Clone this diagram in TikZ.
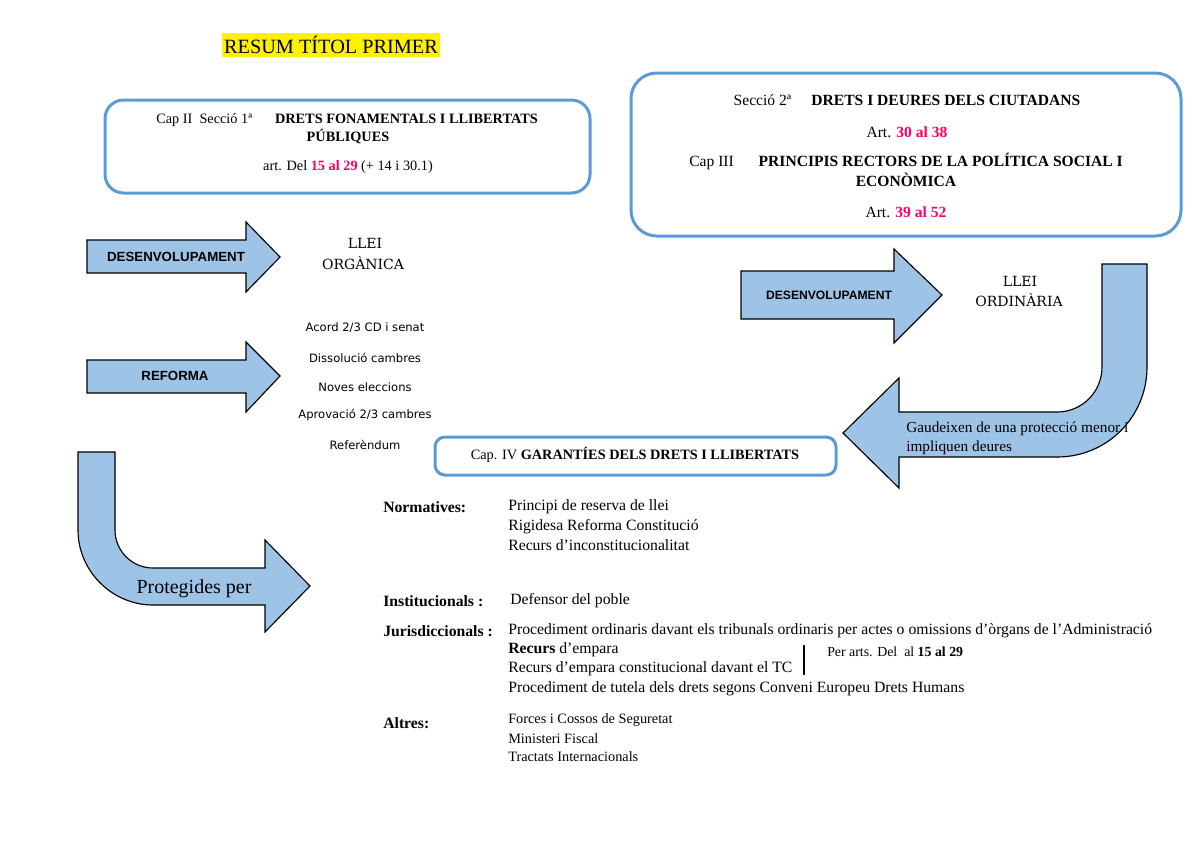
\documentclass[tikz,border=0pt]{standalone}
\usepackage{fontspec}
\setmainfont{Liberation Serif}
\newfontfamily\arialf{Liberation Sans}
\newfontfamily\dvsans{DejaVu Sans}
\newfontfamily\dvserif{DejaVu Serif}
\definecolor{arrowblue}{RGB}{157,195,230}
\definecolor{boxblue}{RGB}{91,155,213}
\definecolor{artpink}{RGB}{255,0,102}
\newcommand{\artnum}[1]{\textcolor{artpink}{\textbf{#1}}}

\begin{document}
\begin{tikzpicture}[x=0.7pt, y=-0.7pt]
\tikzstyle{every node}=[inner sep=0pt];
\tikzstyle{blockarrow}=[draw=black, fill=arrowblue, line width=0.8pt];
\tikzstyle{capbox}=[draw=boxblue, line width=2.1pt];
\tikzstyle{boxtxt}=[font=\fontsize{10}{12}\selectfont];
\tikzstyle{bigboxtxt}=[font=\fontsize{10.9}{13}\selectfont];
\tikzstyle{arrowtxt}=[font=\arialf\bfseries\fontsize{9.3}{11}\selectfont];
\tikzstyle{lleitxt}=[font=\dvserif\fontsize{9.8}{12}\selectfont];
\tikzstyle{steptxt}=[font=\dvsans\fontsize{8.1}{10}\selectfont];
\tikzstyle{gtxt}=[font=\fontsize{11}{13}\selectfont, anchor=west];
\tikzstyle{gsmall}=[font=\fontsize{10}{12}\selectfont, anchor=west];
\useasboundingbox (0,0) rectangle (1200,849);

% title
\node[fill=yellow, inner xsep=1.5pt, inner ysep=2.5pt, font=\fontsize{14.2}{16}\selectfont] (title) at (331,45) {RESUM TÍTOL PRIMER};

% cap II box
\draw[capbox, rounded corners=13pt] (105,100) rectangle (590,193);
\node[boxtxt] (cap2) at (347,120) {Cap II\ \ Secció 1ª\hspace{1.6em}\textbf{DRETS FONAMENTALS I LLIBERTATS}};
\node[boxtxt] (publ) at (348,137) {\textbf{PÚBLIQUES}};
\node[boxtxt] (art1) at (348,167) {art. Del \artnum{15 al 29} (+ 14 i 30.1)};

% seccio 2 / cap III box
\draw[capbox, rounded corners=18pt] (631,73) rectangle (1181,236);
\node[bigboxtxt] (sec2) at (907,100) {Secció 2ª\hspace{1.3em}\textbf{DRETS I DEURES DELS CIUTADANS}};
\node[bigboxtxt] (art2) at (907,132) {Art. \artnum{30 al 38}};
\node[bigboxtxt] (cap3) at (906,161) {Cap III\hspace{1.6em}\textbf{PRINCIPIS RECTORS DE LA POLÍTICA SOCIAL I}};
\node[bigboxtxt] (econ) at (906,180) {\textbf{ECONÒMICA}};
\node[bigboxtxt] (art3) at (906,212) {Art. \artnum{39 al 52}};

% block arrows left
\draw[blockarrow] (87,240) -- (246,240) -- (246,222) -- (280,257) -- (246,292) -- (246,273) -- (87,273) -- cycle;
\node[arrowtxt] (des1) at (176,257) {DESENVOLUPAMENT};
\node[lleitxt] (llei1) at (365,243) {LLEI};
\node[lleitxt] (org) at (363,263) {ORGÀNICA};

\draw[blockarrow] (87,360) -- (246,360) -- (246,342) -- (280,376) -- (246,412) -- (246,393) -- (87,393) -- cycle;
\node[arrowtxt] (refo) at (175,376) {REFORMA};
\node[steptxt] (acord) at (365,328) {Acord 2/3 CD i senat};
\node[steptxt] (disso) at (365,358) {Dissolució cambres};
\node[steptxt] (noves) at (365,387) {Noves eleccions};
\node[steptxt] (aprov) at (365,415) {Aprovació 2/3 cambres};
\node[steptxt] (refer) at (365,445) {Referèndum};

% block arrow right
\draw[blockarrow] (741,271) -- (894,271) -- (894,249) -- (942,295) -- (894,343) -- (894,319) -- (741,319) -- cycle;
\node[arrowtxt, font=\arialf\bfseries\fontsize{8.5}{10}\selectfont] (des2) at (829,295) {DESENVOLUPAMENT};
\node[lleitxt] (llei2) at (1020,281) {LLEI};
\node[lleitxt] (ordi) at (1019,300) {ORDINÀRIA};

% u-turn arrow
\draw[blockarrow] (1102,264) -- (1147,264) -- (1147,367)
  .. controls (1147,417) and (1107,457) .. (1057,457)
  -- (899,457) -- (899,488) -- (843,433) -- (899,378) -- (899,412) -- (1057,412)
  .. controls (1082,412) and (1102,392) .. (1102,367) -- cycle;
\node[gtxt, font=\fontsize{10.7}{12}\selectfont] (gaud1) at (906,429) {Gaudeixen de una protecció menor i};
\node[gtxt, font=\fontsize{10.7}{12}\selectfont] (gaud2) at (906,448) {impliquen deures};

% l-turn arrow
\draw[blockarrow] (78,452) -- (115,452) -- (115,530)
  .. controls (115,551) and (132,568) .. (153,568)
  -- (265,568) -- (265,540) -- (310,586) -- (265,632) -- (265,605) -- (153,605)
  .. controls (112,605) and (78,571) .. (78,530) -- cycle;
\node[font=\fontsize{14}{16}\selectfont] (prot) at (194,589) {Protegides per};

% cap IV box
\draw[capbox, rounded corners=7pt] (435,437) rectangle (836,475);
\node[boxtxt] (cap4) at (635,455) {Cap. IV \textbf{GARANTÍES DELS DRETS I LLIBERTATS}};

% garanties
\node[gtxt] (norm) at (383,507) {\textbf{Normatives:}};
\node[gtxt] (n1) at (508,507) {Principi de reserva de llei};
\node[gtxt] (n2) at (508,527) {Rigidesa Reforma Constitució};
\node[gtxt] (n3) at (508,545) {Recurs d’inconstitucionalitat};

\node[gtxt] (inst) at (383,601) {\textbf{Institucionals :}};
\node[gtxt] (i1) at (510,601) {Defensor del poble};

\node[gtxt] (juri) at (383,631) {\textbf{Jurisdiccionals :}};
\node[gtxt] (j1) at (508,631) {Procediment ordinaris davant els tribunals ordinaris per actes o omissions d’òrgans de l’Administració};
\node[gtxt] (j2) at (508,650) {\textbf{Recurs} d’empara};
\node[gtxt] (j3) at (508,669) {Recurs d’empara constitucional davant el TC};
\node[gtxt] (j4) at (508,689) {Procediment de tutela dels drets segons Conveni Europeu Drets Humans};
\draw[line width=0.9pt] (804,645) -- (804,675);
\node[gsmall, font=\fontsize{9.7}{11}\selectfont] (perarts) at (827,652) {Per arts. Del\ \ al \textbf{15 al 29}};

\node[gtxt] (altr) at (383,723) {\textbf{Altres:}};
\node[gsmall] (a1) at (508,720) {Forces i Cossos de Seguretat};
\node[gsmall] (a2) at (508,739) {Ministeri Fiscal};
\node[gsmall] (a3) at (508,757) {Tractats Internacionals};
\end{tikzpicture}
\end{document}
